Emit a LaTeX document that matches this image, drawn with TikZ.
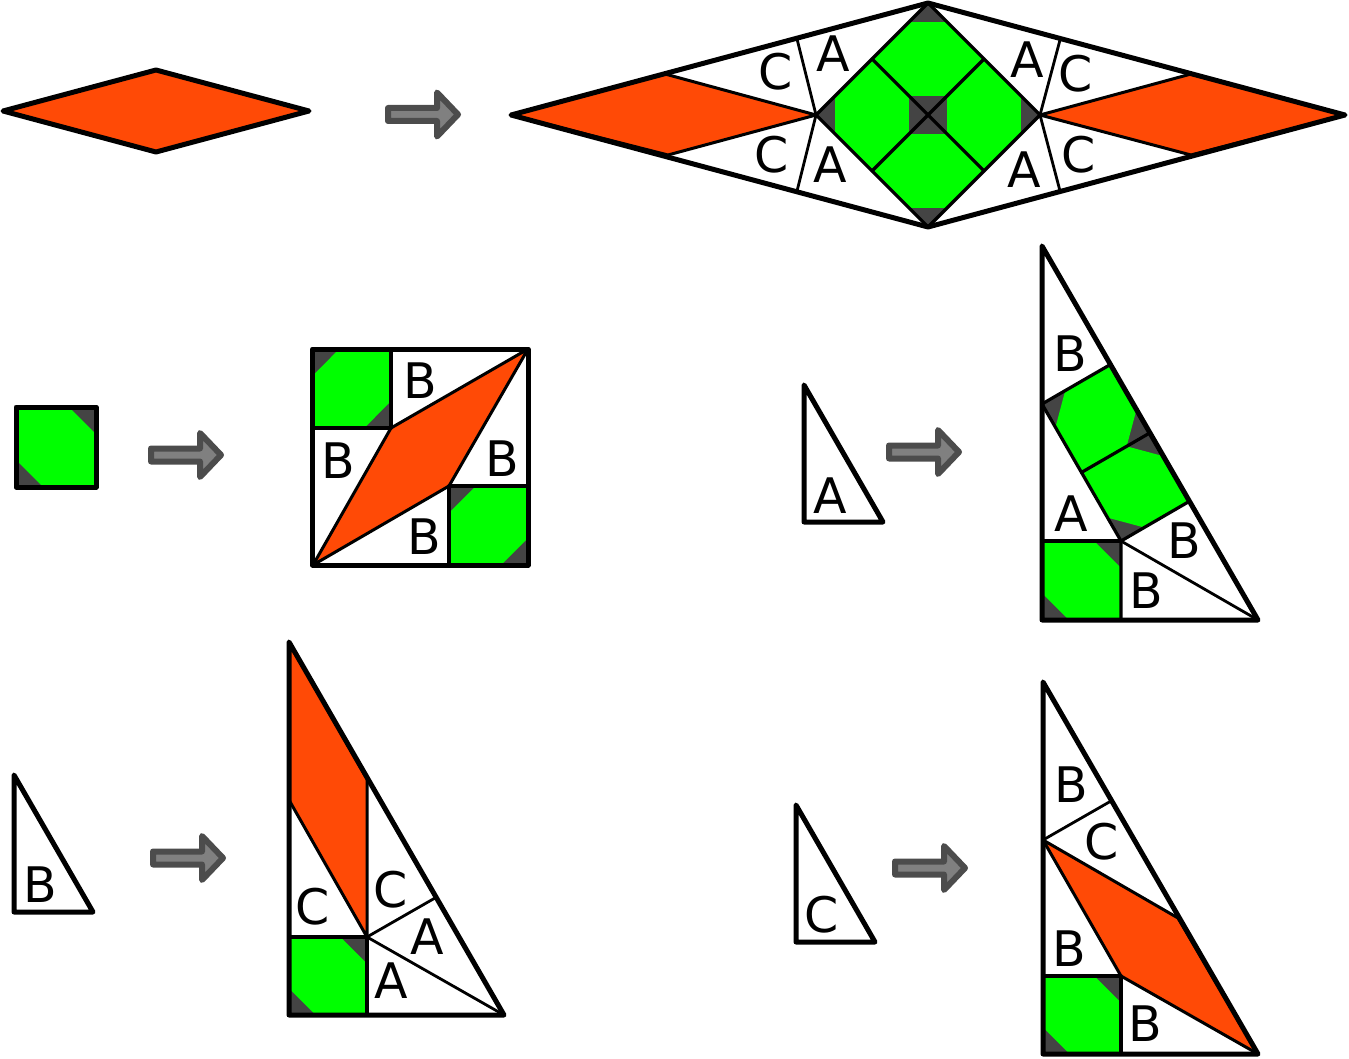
\documentclass[tikz,border=0pt]{standalone}
\usepackage{fontspec}
\setmainfont{DejaVu Sans}
\usetikzlibrary{calc}
\definecolor{kiteorange}{HTML}{FF4A06}
\definecolor{tilegreen}{HTML}{00FF00}
\definecolor{cornerdark}{HTML}{444444}
\tikzset{
	outline/.style={line width=5pt, line join=round, line cap=round},
	inner/.style={line width=3.2pt, line join=round, line cap=round},
	thin line/.style={line width=2.8pt, line cap=round},
	kite/.style={fill=kiteorange, draw=black, line width=3pt, line join=round},
	letter/.style={font=\fontsize{49}{50}\selectfont, inner sep=0pt},
	fatarrow/.style={fill=black!50, draw=black!70, line width=6pt, line join=round}
}
% square tile: corners a b c d, dark corners sit at a and c
\def\octile(#1)(#2)(#3)(#4){
	\fill[cornerdark] (#1) -- (#2) -- (#3) -- (#4) -- cycle;
	\fill[tilegreen] ($(#1)!0.34!(#2)$) -- (#2) -- ($(#3)!0.34!(#2)$) -- ($(#3)!0.34!(#4)$) -- (#4) -- ($(#1)!0.34!(#4)$) -- cycle;
}
\def\fatarrow(#1,#2){\draw[fatarrow, shift={(#1,#2)}] (0,-6.5) -- (49,-6.5) -- (49,-22) -- (70,0) -- (49,22) -- (49,6.5) -- (0,6.5) -- cycle;}

\begin{document}
\begin{tikzpicture}[x=1pt, y=-1pt]
	%%%%% START %%%%%
	\useasboundingbox (0,0) rectangle (1349,1059);

	% top row
	\draw[kite, outline] (3,111) -- (156,70) -- (309,111) -- (156,152) -- cycle;
	\fatarrow(388,114.5);

	\draw[kite] (511,115) -- (665,74) -- (816,115) -- (668,155) -- cycle;
	\draw[kite] (1040,115) -- (1191,74) -- (1345,115) -- (1191,155) -- cycle;
	\octile(928,3)(984,59)(928,115)(872,59);
	\octile(1040,115)(984,171)(928,115)(984,59);
	\octile(928,227)(872,171)(928,115)(984,171);
	\octile(816,115)(872,59)(928,115)(872,171);
	\draw[inner] (816,115) -- (928,3) -- (1040,115) -- (928,227) -- cycle;
	\draw[inner] (872,59) -- (984,171);
	\draw[inner] (984,59) -- (872,171);
	\draw[thin line] (816,115) -- (797,39);
	\draw[thin line] (816,115) -- (797,191);
	\draw[thin line] (1040,115) -- (1060,40);
	\draw[thin line] (1040,115) -- (1060,191);
	\draw[outline] (511,115) -- (928,3) -- (1345,115) -- (928,227) -- cycle;
	\node[letter] (ctl) at (776,72) {C};
	\node[letter] (atl) at (833,54) {A};
	\node[letter] (cbl) at (772,155) {C};
	\node[letter] (abl) at (830,165) {A};
	\node[letter] (atr) at (1027,60) {A};
	\node[letter] (ctr) at (1076,74) {C};
	\node[letter] (abr) at (1024,170) {A};
	\node[letter] (cbr) at (1079,155) {C};

	% square
	\octile(96,407)(96,487)(16,487)(16,407);
	\draw[outline] (16,407) rectangle (96,487);
	\fatarrow(151,455);

	\octile(312.5,349)(391,349)(391,428)(312.5,428);
	\octile(449,486)(528,486)(528,565)(449,565);
	\draw[kite] (313,565) -- (391,428) -- (528,349) -- (449,486) -- cycle;
	\draw[inner] (391,349) -- (391,428) -- (312.5,428);
	\draw[inner] (449,565) -- (449,486) -- (528,486);
	\draw[outline] (312.5,349) rectangle (528,565);
	\node[letter] (bsa) at (420,381) {B};
	\node[letter] (bsb) at (338,461) {B};
	\node[letter] (bsc) at (502,459) {B};
	\node[letter] (bsd) at (424,537) {B};

	% triangle A
	\draw[outline] (804,385) -- (804,522) -- (883,522) -- cycle;
	\node[letter] (asmall) at (830,496) {A};
	\fatarrow(889,452);

	\octile(1042,404)(1110.4,364.5)(1149.9,432.9)(1081.5,472.4);
	\octile(1149.9,432.9)(1189.4,501.3)(1121,541)(1081.5,472.4);
	\octile(1121,541)(1121,620)(1042,620)(1042,541);
	\draw[inner] (1042,404) -- (1110.4,364.5);
	\draw[inner] (1081.5,472.4) -- (1149.9,432.9);
	\draw[inner] (1121,541) -- (1189.4,501.3);
	\draw[inner] (1042,404) -- (1121,541) -- (1121,620);
	\draw[inner] (1042,541) -- (1121,541);
	\draw[thin line] (1121,541) -- (1258,620);
	\draw[outline] (1042,246) -- (1042,620) -- (1258,620) -- cycle;
	\node[letter] (bta) at (1070,354) {B};
	\node[letter] (ata) at (1071,514) {A};
	\node[letter] (btb) at (1184,541) {B};
	\node[letter] (btc) at (1146,591) {B};

	% triangle B
	\draw[outline] (14,775) -- (14,912) -- (93,912) -- cycle;
	\node[letter] (bsmall) at (40,885) {B};
	\fatarrow(153,858);

	\draw[kite] (289,642) -- (367,779) -- (367,937) -- (289,800) -- cycle;
	\octile(367,937)(367,1015)(289,1015)(289,937);
	\draw[inner] (289,937) -- (367,937) -- (367,1015);
	\draw[thin line] (367,937) -- (435,898);
	\draw[thin line] (367,937) -- (504,1015);
	\draw[outline] (289,642) -- (289,1015) -- (504,1015) -- cycle;
	\node[letter] (cba) at (391,890) {C};
	\node[letter] (cbb) at (313,907) {C};
	\node[letter] (aba) at (427,937) {A};
	\node[letter] (abb) at (391,981) {A};

	% triangle C
	\draw[outline] (796,805) -- (796,942) -- (875,942) -- cycle;
	\node[letter] (csmall) at (822,915) {C};
	\fatarrow(895,868);

	\draw[kite] (1043,840) -- (1178,918) -- (1258,1054) -- (1121,976) -- cycle;
	\octile(1121,976)(1121,1054)(1043,1054)(1043,976);
	\draw[inner] (1043,976) -- (1121,976) -- (1121,1054);
	\draw[thin line] (1043,840) -- (1111,801);
	\draw[outline] (1043,682) -- (1043,1054) -- (1258,1054) -- cycle;
	\node[letter] (bca) at (1071,785) {B};
	\node[letter] (cca) at (1102,842) {C};
	\node[letter] (bcb) at (1069,949) {B};
	\node[letter] (bcc) at (1145,1024) {B};
	%%%%% END %%%%%
\end{tikzpicture}
\end{document}
